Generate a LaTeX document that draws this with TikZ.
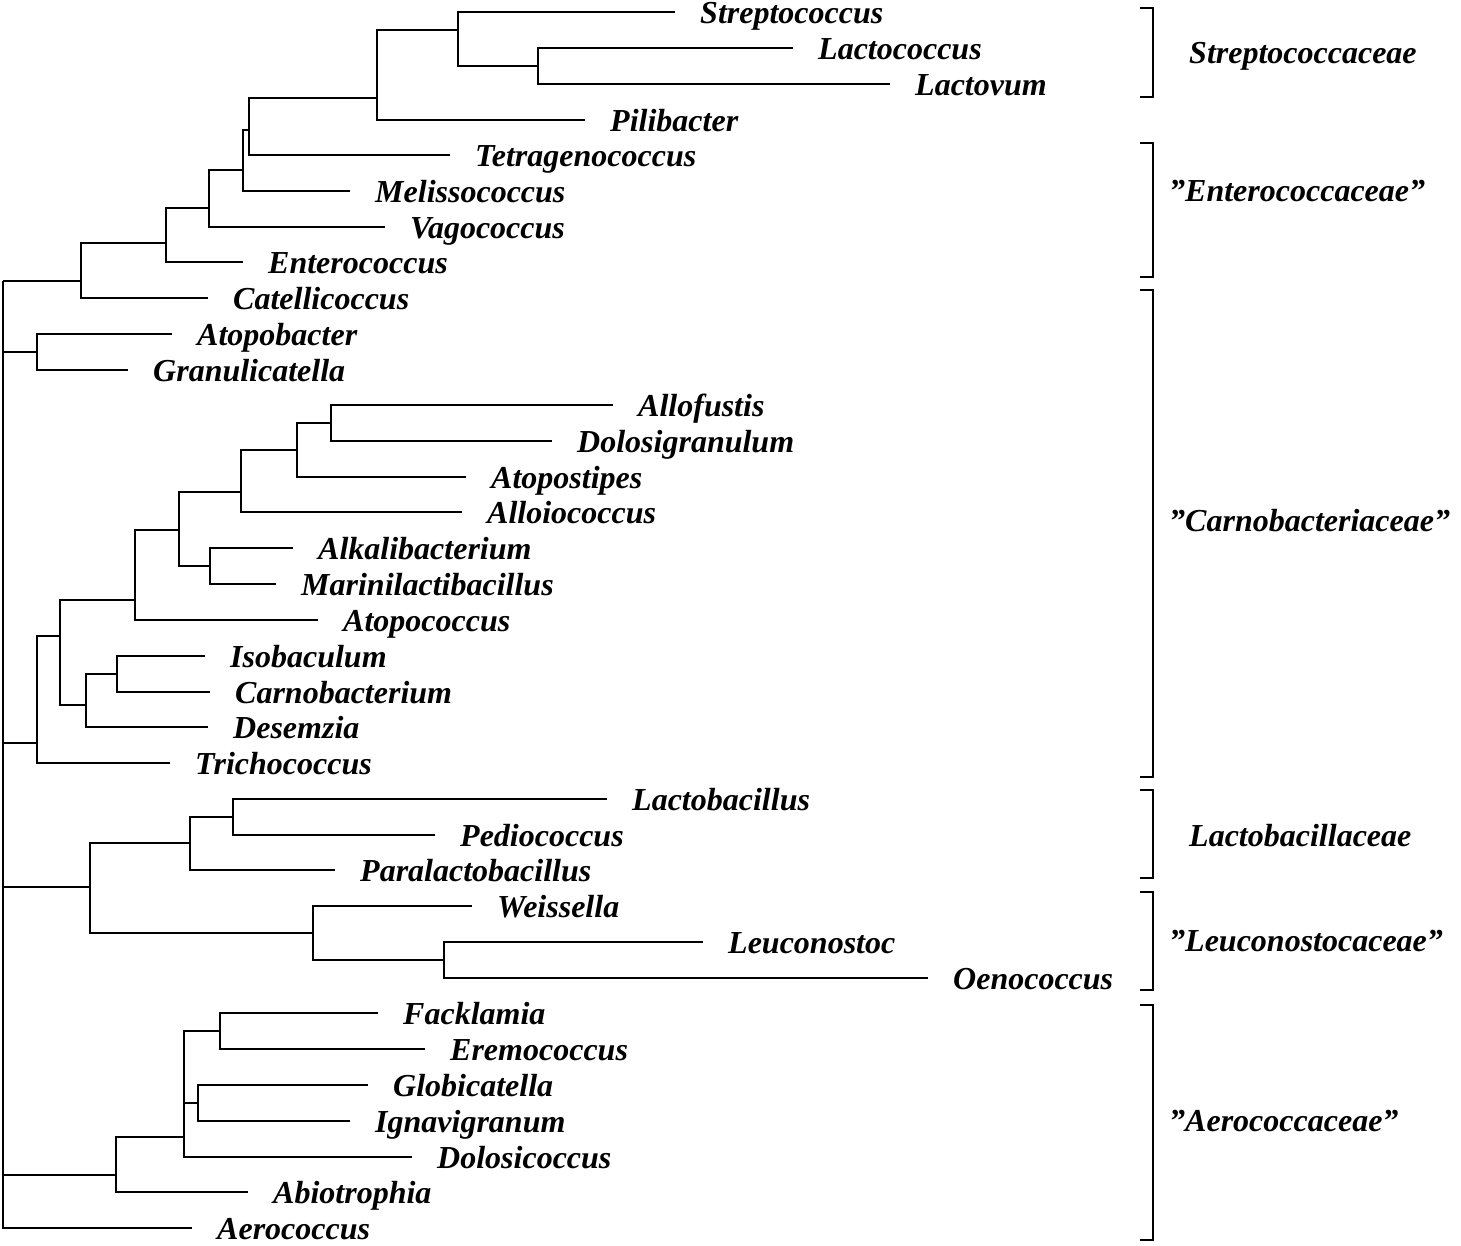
\documentclass[tikz,border=0pt]{standalone}
\usepackage{fontspec}
\setmainfont{Liberation Serif}[Ligatures=ResetAll]
\begin{document}
\begin{tikzpicture}[x=1pt,y=-1pt,line width=2.4pt,
  lab/.style={anchor=base west,inner sep=0pt,font=\fontsize{32}{34}\selectfont\bfseries\itshape},
  fam/.style={anchor=base west,inner sep=0pt,font=\fontsize{32}{34}\selectfont\bfseries\itshape}]
\useasboundingbox (0,0) rectangle (1461,1245);
\newcommand{\leaf}[4]{\coordinate (#1) at (#2,#3); \node[lab] (t#1) at ([xshift=24pt,yshift=-11pt]#1) {#4};}
\newcommand{\qq}{\symbol{34}}
\leaf{strep}{675}{12}{Streptococcus}
\leaf{lacto}{793}{48}{Lactococcus}
\leaf{lactov}{890}{84}{Lactovum}
\leaf{pili}{585}{120}{Pilibacter}
\leaf{tetra}{450}{155}{Tetragenococcus}
\leaf{meli}{350}{191}{Melissococcus}
\leaf{vago}{385}{227}{Vagococcus}
\leaf{entero}{243}{262}{Enterococcus}
\leaf{catel}{208}{298}{Catellicoccus}
\leaf{atopob}{172}{334}{Atopobacter}
\leaf{granu}{128}{370}{Granulicatella}
\leaf{allof}{613}{405}{Allofustis}
\leaf{dolosig}{552}{441}{Dolosigranulum}
\leaf{atopos}{466}{477}{Atopostipes}
\leaf{alloio}{462}{512}{Alloiococcus}
\leaf{alkali}{293}{548}{Alkalibacterium}
\leaf{marini}{276}{584}{Marinilactibacillus}
\leaf{atopoc}{318}{620}{Atopococcus}
\leaf{isob}{205}{656}{Isobaculum}
\leaf{carnob}{210}{692}{Carnobacterium}
\leaf{desem}{208}{727}{Desemzia}
\leaf{tricho}{170}{763}{Trichococcus}
\leaf{lactob}{607}{799}{Lactobacillus}
\leaf{pedio}{435}{835}{Pediococcus}
\leaf{paral}{335}{870}{Paralactobacillus}
\leaf{weiss}{472}{906}{Weissella}
\leaf{leuco}{703}{942}{Leuconostoc}
\leaf{oeno}{928}{978}{Oenococcus}
\leaf{fack}{378}{1013}{Facklamia}
\leaf{eremo}{425}{1049}{Eremococcus}
\leaf{globi}{368}{1085}{Globicatella}
\leaf{ignav}{350}{1121}{Ignavigranum}
\leaf{dolosic}{412}{1157}{Dolosicoccus}
\leaf{abio}{248}{1192}{Abiotrophia}
\leaf{aero}{192}{1228}{Aerococcus}
% internal nodes
\coordinate (n1) at (538,66);
\coordinate (n2) at (458,30);
\coordinate (n3) at (377,98);
\coordinate (n4) at (249,130);
\coordinate (n5) at (243,170);
\coordinate (n6) at (209,208);
\coordinate (n7) at (166,243);
\coordinate (n8) at (81,281);
\coordinate (n9) at (37,352);
\coordinate (c1) at (331,423);
\coordinate (c2) at (297,450);
\coordinate (c3) at (241,492);
\coordinate (c4) at (210,566);
\coordinate (c5) at (179,530);
\coordinate (c6) at (135,600);
\coordinate (c7) at (117,674);
\coordinate (c8) at (86,705);
\coordinate (c9) at (60,636);
\coordinate (c10) at (37,743);
\coordinate (l1) at (233,817);
\coordinate (l2) at (190,843);
\coordinate (l3) at (444,960);
\coordinate (l4) at (313,933);
\coordinate (l5) at (90,887);
\coordinate (a1) at (220,1031);
\coordinate (a2) at (198,1103);
\coordinate (a3) at (184,1137);
\coordinate (a4) at (116,1175);
\coordinate (root) at (3,281);
\foreach \p/\c in {n1/lacto,n1/lactov,n2/strep,n2/n1,n3/n2,n3/pili,n4/n3,n4/tetra,n5/n4,n5/meli,
  n6/n5,n6/vago,n7/n6,n7/entero,n8/n7,n8/catel,n9/atopob,n9/granu,
  c1/allof,c1/dolosig,c2/c1,c2/atopos,c3/c2,c3/alloio,c4/alkali,c4/marini,c5/c3,c5/c4,
  c6/c5,c6/atopoc,c7/isob,c7/carnob,c8/c7,c8/desem,c9/c6,c9/c8,c10/c9,c10/tricho,
  l1/lactob,l1/pedio,l2/l1,l2/paral,l3/leuco,l3/oeno,l4/weiss,l4/l3,l5/l2,l5/l4,
  a1/fack,a1/eremo,a2/globi,a2/ignav,a3/a1,a3/a2,a3/dolosic,a4/a3,a4/abio,
  root/n8,root/n9,root/c10,root/l5,root/a4,root/aero}
  \draw (\p) |- (\c);
% brackets
\foreach \ya/\yb/\ym/\xx/\t in {8/97/52/1188/Streptococcaceae,143/277/190/1168/\qq Enterococcaceae\qq,290/777/520/1168/\qq Carnobacteriaceae\qq,790/878/835/1188/Lactobacillaceae,892/990/940/1168/\qq Leuconostocaceae\qq,1005/1240/1120/1168/\qq Aerococcaceae\qq}{
  \draw[line width=1.6pt] (1140,\ya) -- (1153,\ya) -- (1153,\yb) -- (1140,\yb);
  \node[fam] at (\xx,\ym+11) {\t};}
\end{tikzpicture}
\end{document}
